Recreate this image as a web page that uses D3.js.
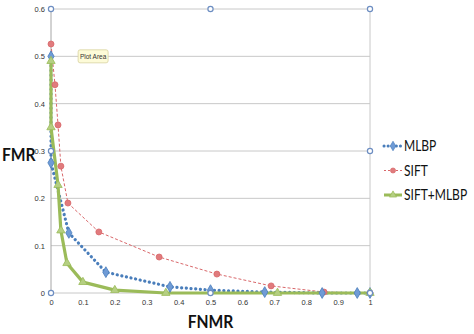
<!DOCTYPE html>
<html><head><meta charset="utf-8">
<script src="https://cdn.jsdelivr.net/npm/d3@7"></script>
<style>body{margin:0;background:#fff}svg{display:block}</style>
</head><body>
<script>
// FMR vs FNMR error trade-off for three matchers
const xTicks = [0,0.1,0.2,0.3,0.4,0.5,0.6,0.7,0.8,0.9,1];
const yTicks = [0,0.1,0.2,0.3,0.4,0.5,0.6];
const seriesNames = ["MLBP","SIFT","SIFT+MLBP"];
const mlbpFNMR = [0,0,0.056,0.172,0.373,0.5,0.67,0.85,0.96,1];
const mlbpFMR  = [0.5,0.275,0.127,0.044,0.013,0.006,0.002,0,0,0];
const siftFNMR = [0,0.0125,0.022,0.031,0.053,0.15,0.339,0.52,0.69,0.856,1];
const siftFMR  = [0.526,0.44,0.355,0.268,0.19,0.129,0.076,0.04,0.015,0.002,0];
const comboFNMR = [0,0,0.022,0.031,0.05,0.1,0.2,0.36,0.71,1];
const comboFMR  = [0.49,0.35,0.228,0.132,0.063,0.023,0.006,0,0,0];

const W = 474, H = 334;
const m = {l:51, t:9, r:104, b:41};
const svg = d3.select("body").append("svg").attr("width",W).attr("height",H);
const x = d3.scaleLinear().domain([0,1]).range([m.l, W-m.r]);
const y = d3.scaleLinear().domain([0,0.6]).range([H-m.b, m.t]);
const sans = "Lato, 'Liberation Sans', sans-serif";

// horizontal gridlines
svg.append("g").selectAll("line").data(yTicks).join("line")
  .attr("x1",x(0)).attr("x2",x(1)).attr("y1",d=>y(d)).attr("y2",d=>y(d))
  .attr("stroke","#c8c8c8").attr("stroke-width",1);
// plot frame sides
svg.append("line").attr("x1",x(0)).attr("x2",x(0)).attr("y1",y(0)).attr("y2",y(0.6)).attr("stroke","#a6a6a6");
svg.append("line").attr("x1",x(1)).attr("x2",x(1)).attr("y1",y(0)).attr("y2",y(0.6)).attr("stroke","#c8c8c8");

// tick labels
const yAxis = d3.axisLeft(y).tickValues(yTicks).tickSize(0).tickPadding(6).tickFormat(d=>d===0?"0":d3.format(".1f")(d));
const gy = svg.append("g").attr("transform",`translate(${x(0)},0)`).call(yAxis);
const xAxis = d3.axisBottom(x).tickValues(xTicks).tickSize(0).tickPadding(7).tickFormat(d=>(d===0||d===1)?String(d):d3.format(".1f")(d));
const gx = svg.append("g").attr("transform",`translate(0,${y(0)})`).call(xAxis);
[gx,gy].forEach(g=>{g.select(".domain").remove();
  g.selectAll("text").attr("font-family","Liberation Sans, Arial, sans-serif").attr("font-size",7.5).attr("fill","#333");});

const line = d3.line().x(d=>x(d[0])).y(d=>y(d[1]));
const zip = (a,b)=>a.map((v,i)=>[v,b[i]]);
const sift = zip(siftFNMR,siftFMR), mlbp = zip(mlbpFNMR,mlbpFMR), combo = zip(comboFNMR,comboFMR);

const blue="#4a7ebb", blueFill="#6f9bd6", red="#d9676a", redFill="#e07b7d", green="#9bbb59", greenFill="#b5cf82";

// SIFT: thin dashed
svg.append("path").attr("d",line(sift)).attr("fill","none").attr("stroke",red).attr("stroke-width",1).attr("stroke-dasharray","3,2");
// MLBP: heavy round dots
svg.append("path").attr("d",line(mlbp)).attr("fill","none").attr("stroke",blue).attr("stroke-width",3.2)
  .attr("stroke-dasharray","0.1,4.6").attr("stroke-linecap","round");
// SIFT+MLBP: solid
svg.append("path").attr("d",line(combo)).attr("fill","none").attr("stroke",green).attr("stroke-width",3.2).attr("stroke-linejoin","round");

// markers
svg.append("g").selectAll("circle").data(sift).join("circle")
  .attr("cx",d=>x(d[0])).attr("cy",d=>y(d[1])).attr("r",3).attr("fill",redFill).attr("stroke",red).attr("stroke-width",0.8);
const diamond = d3.symbol().type(d3.symbolDiamond).size(34);
svg.append("g").selectAll("path").data(mlbp).join("path")
  .attr("transform",d=>`translate(${x(d[0])},${y(d[1])})`).attr("d",diamond()).attr("fill",blueFill).attr("stroke",blue).attr("stroke-width",0.8);
const tri = d3.symbol().type(d3.symbolTriangle).size(30);
svg.append("g").selectAll("path").data(combo).join("path")
  .attr("transform",d=>`translate(${x(d[0])},${y(d[1])})`).attr("d",tri()).attr("fill",greenFill).attr("stroke",green).attr("stroke-width",0.8);

// selection handles around the plot area
const hx=[0,0.5,1], hy=[0,0.3,0.6];
const handles=[];
hx.forEach(a=>hy.forEach(b=>{ if(!(a===0.5&&b===0.3)) handles.push([a,b]); }));
svg.append("g").selectAll("circle").data(handles).join("circle")
  .attr("cx",d=>x(d[0])).attr("cy",d=>y(d[1])).attr("r",2.6).attr("fill","#fff").attr("stroke","#6d8ec2").attr("stroke-width",1.2);

// "Plot Area" tooltip
const tip = svg.append("g").attr("transform",`translate(${x(0.085)},${y(0.5)})`);
tip.append("rect").attr("x",0).attr("y",-6.5).attr("width",30).attr("height",13).attr("rx",2)
  .attr("fill","#fdfbd8").attr("stroke","#d8d2a0").attr("stroke-width",0.8);
tip.append("text").attr("x",15).attr("y",2.5).attr("text-anchor","middle").attr("font-family","Liberation Sans, Arial, sans-serif")
  .attr("font-size",6.5).attr("fill","#333").text("Plot Area");

// axis titles
svg.append("text").attr("transform","translate(2,161) scale(0.92,1)").attr("font-family",sans).attr("font-weight","bold")
  .attr("font-size",17).attr("fill","#111").text("FMR");
svg.append("text").attr("transform",`translate(${x(0.5)},328) scale(0.92,1)`).attr("text-anchor","middle").attr("font-family",sans)
  .attr("font-weight","bold").attr("font-size",17).attr("fill","#111").text("FNMR");

// legend
const lg = svg.append("g").attr("transform","translate(384,146)");
const styles = [
  {c:blue,f:blueFill,w:3,dash:"0.1,4",cap:"round",sym:d3.symbolDiamond,size:26},
  {c:red,f:redFill,w:1,dash:"2,2",cap:"butt",sym:d3.symbolCircle,size:20},
  {c:green,f:greenFill,w:3,dash:null,cap:"butt",sym:d3.symbolTriangle,size:22}];
seriesNames.forEach((n,i)=>{
  const g = lg.append("g").attr("transform",`translate(0,${i*24.5})`);
  const s = styles[i];
  g.append("line").attr("x1",0).attr("x2",18).attr("stroke",s.c).attr("stroke-width",s.w)
    .attr("stroke-dasharray",s.dash).attr("stroke-linecap",s.cap);
  g.append("path").attr("transform","translate(9,0)").attr("d",d3.symbol().type(s.sym).size(s.size)()).attr("fill",s.f).attr("stroke",s.c).attr("stroke-width",0.7);
  g.append("text").attr("transform","translate(20,5) scale(0.83,1)").attr("font-family",sans).attr("font-size",14.5).attr("fill","#111").text(n);
});
</script>
</body></html>
